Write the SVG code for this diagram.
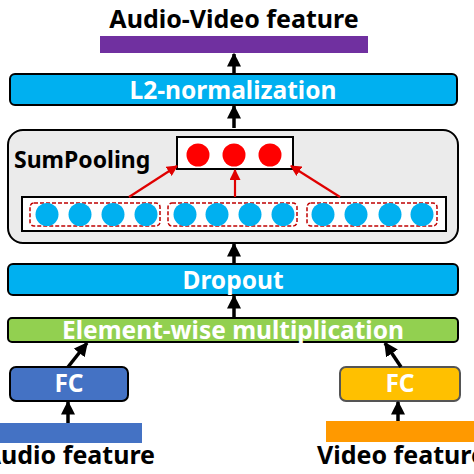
<svg xmlns="http://www.w3.org/2000/svg" width="474" height="474" viewBox="0 0 474 474">
<defs>
<marker id="ah" viewBox="0 0 10 10" refX="9" refY="5" markerWidth="4" markerHeight="4" orient="auto" markerUnits="strokeWidth"><path d="M0,0 L10,5 L0,10 z" fill="#000"/></marker>
<marker id="ahr" viewBox="0 0 10 10" refX="9" refY="5" markerWidth="5" markerHeight="5" orient="auto" markerUnits="strokeWidth"><path d="M0,0 L10,5 L0,10 z" fill="#E00000"/></marker>
</defs>
<style>
text{font-family:"Noto Sans","Liberation Sans",sans-serif;font-weight:bold;}
.w{fill:#fff;font-size:24.5px;text-anchor:middle;}
.k{fill:#000;font-size:25px;}
.box{stroke:#000;stroke-width:2;}
.blue{fill:#00B0F0;}
.bd{fill:#00B0F0;}
.rd{fill:#FF0000;}
.dash{fill:none;stroke:#C00000;stroke-width:1.5;stroke-dasharray:4 2;}
.arr{stroke:#000;stroke-width:3.5;fill:none;marker-end:url(#ah);}
.arr2{stroke:#E00000;stroke-width:2.2;fill:none;marker-end:url(#ahr);}
</style>
<g id="title"><text class="k" x="234" y="28" text-anchor="middle">Audio-Video feature</text>
<rect x="100" y="36" width="268" height="17" fill="#7030A0"/></g>
<g id="l2"><rect class="box blue" x="10" y="74" width="447" height="31" rx="5"/><text class="w" x="233" y="99">L2-normalization</text></g>
<g id="sumpool">
<rect x="8" y="130" width="450" height="113" rx="15" fill="#EBEBEB" stroke="#000" stroke-width="2"/>
<text class="k" x="14" y="168" style="font-size:23px">SumPooling</text>
<rect x="177" y="137" width="116" height="32" fill="#fff" stroke="#000" stroke-width="2"/>
<circle class="rd" cx="198" cy="155" r="11.5"/><circle class="rd" cx="234" cy="155" r="11.5"/><circle class="rd" cx="270" cy="155" r="11.5"/>
<rect x="22" y="197" width="424" height="34" fill="#fff" stroke="#000" stroke-width="2"/>
<rect class="dash" x="30" y="203" width="130" height="23" rx="4"/>
<rect class="dash" x="168" y="203" width="129" height="23" rx="4"/>
<rect class="dash" x="307" y="203" width="130" height="23" rx="4"/>
<g class="bd">
<circle cx="47" cy="214.5" r="11.5"/><circle cx="80" cy="214.5" r="11.5"/><circle cx="113" cy="214.5" r="11.5"/><circle cx="146" cy="214.5" r="11.5"/>
<circle cx="185" cy="214.5" r="11.5"/><circle cx="217" cy="214.5" r="11.5"/><circle cx="250" cy="214.5" r="11.5"/><circle cx="283" cy="214.5" r="11.5"/>
<circle cx="323" cy="214.5" r="11.5"/><circle cx="356" cy="214.5" r="11.5"/><circle cx="390" cy="214.5" r="11.5"/><circle cx="422" cy="214.5" r="11.5"/>
</g>
</g>
<g id="dropout"><rect class="box blue" x="8" y="264" width="450" height="31" rx="5"/><text class="w" x="233" y="289">Dropout</text></g>
<g id="mult"><rect class="box" x="8" y="318" width="450" height="24" rx="4" fill="#92D050"/><text class="w" x="233" y="339">Element-wise multiplication</text></g>
<g id="fcA"><rect class="box" x="10" y="367" width="118" height="34" rx="6" fill="#4472C4"/><text class="w" x="69" y="392">FC</text></g>
<g id="fcV"><rect x="340" y="367" width="120" height="34" rx="6" fill="#FFC000" stroke="#555" stroke-width="2"/><text class="w" x="400" y="392">FC</text></g>
<g id="audio"><rect x="0" y="423" width="142" height="20" fill="#4472C4"/><text class="k" x="155" y="464" text-anchor="end">Audio feature</text></g>
<g id="video"><rect x="326" y="421" width="148" height="21" fill="#FF9900"/><text class="k" x="317" y="464">Video feature</text></g>
<g id="connectors">
<line class="arr" x1="234" y1="74" x2="234" y2="54"/>
<line class="arr" x1="234" y1="128" x2="234" y2="106"/>
<line class="arr" x1="234" y1="264" x2="234" y2="244"/>
<line class="arr" x1="234" y1="318" x2="234" y2="296"/>
<line class="arr" x1="68" y1="367" x2="87" y2="343"/>
<line class="arr" x1="401" y1="367" x2="385" y2="343"/>
<line class="arr" x1="68" y1="423" x2="68" y2="402"/>
<line class="arr" x1="398" y1="421" x2="398" y2="402"/>
<line class="arr2" x1="129" y1="197" x2="177" y2="166"/>
<line class="arr2" x1="235" y1="197" x2="235" y2="170"/>
<line class="arr2" x1="340" y1="197" x2="291" y2="166"/>
</g>
</svg>
